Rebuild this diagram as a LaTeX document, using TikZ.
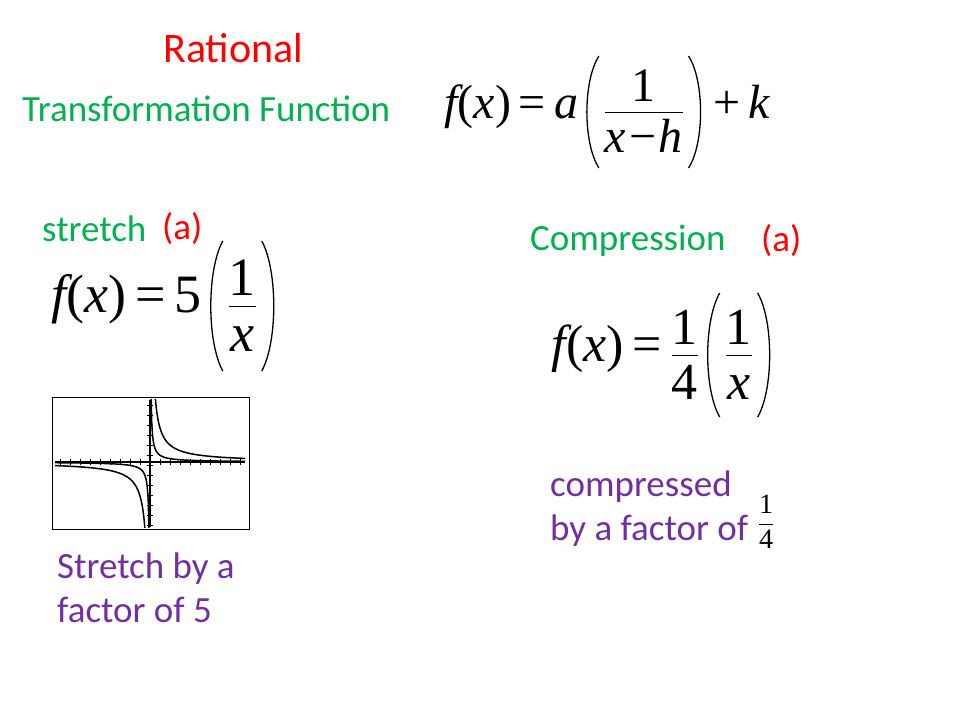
\documentclass[tikz,border=0pt]{standalone}
\usepackage{fontspec}
\setmainfont{Carlito}
\newfontfamily\serif{Liberation Serif}
\newcommand\mi[1]{\mbox{\serif\itshape #1}}
\newcommand\mr[1]{\mbox{\serif #1}}
\newcommand\nm[1]{\mbox{\serif #1\rule[-0.14em]{0pt}{0pt}}}
\newcommand\dn[1]{\mbox{\serif\rule{0pt}{0.82em}#1}}
\newcommand\bp[1]{\vcenter{\hbox{\tikz[x=1pt,y=1pt]\draw[line width=1.3pt] (14,#1) .. controls (-2,#1*0.55) and (-2,-#1*0.55) .. (14,-#1);}}}
\newcommand\bq[1]{\vcenter{\hbox{\tikz[x=1pt,y=1pt]\draw[line width=1.3pt] (0,#1) .. controls (16,#1*0.55) and (16,-#1*0.55) .. (0,-#1);}}}
\definecolor{gr}{RGB}{0,176,80}
\definecolor{pu}{RGB}{112,48,160}
\begin{document}
\begin{tikzpicture}[x=1pt,y=-1pt,
  txt/.style={inner sep=0pt,anchor=west,font=\fontsize{37}{44}\selectfont},
  eq/.style={inner sep=0pt,anchor=center}]
\useasboundingbox (0,0) rectangle (960,720);
\node[txt,text=red,font=\fontsize{42}{50}\selectfont] (t) at (163,48) {Rational};
\node[txt,text=gr] (tf) at (22,109) {Transformation Function};
\node[eq] (e1) at (607,112) {\fontsize{48}{60}\selectfont$\displaystyle \mi{f}\mr{(}\mi{x}\mr{)}\mr{\,=\,}\mi{a}\,\bp{56}\,\frac{\nm{1}}{\dn{\itshape x−h}}\,\bq{56}\mr{\,+\,}\mi{k}$};
\node[txt,text=gr] (s) at (42,229) {stretch};
\node[txt,text=red] (sa) at (162,229) {(a)};
\node[eq] (e2) at (165,306) {\fontsize{54}{64}\selectfont$\displaystyle \mi{f}\mr{(}\mi{x}\mr{)}\mr{\,=\,}\mr{5}\,\bp{65}\,\frac{\nm{1}}{\dn{\itshape x}}\,\bq{65}$};
\node[txt,text=gr] (c) at (530,241) {Compression};
\node[txt,text=red] (ca) at (761,241) {(a)};
\node[eq] (e3) at (663,355) {\fontsize{52}{64}\selectfont$\displaystyle \mi{f}\mr{(}\mi{x}\mr{)}\mr{\,=\,}\frac{\nm{1}}{\dn{4}}\,\bp{62}\,\frac{\nm{1}}{\dn{\itshape x}}\,\bq{62}$};
\draw[line width=0.8pt] (52,397) rectangle (249,529);
\begin{scope}
\clip (54,399) rectangle (247,527);
\draw[line width=2pt] (55,462) -- (245,462);
\draw[line width=2pt] (150,400) -- (150,527);
\foreach \i in {60,70,...,240} \draw[line width=1pt] (\i,459) -- (\i,465);
\foreach \j in {405,415,...,525} \draw[line width=1pt] (147,\j) -- (153,\j);
\draw[line width=1.5pt,domain=0.6:95,samples=120] plot ({150+\x},{462-340/\x});
\draw[line width=1.5pt,domain=-0.6:-95,samples=120] plot ({150+\x},{462-340/\x});
\draw[line width=1.5pt,domain=0.2:95,samples=120] plot ({150+\x},{462-68/\x});
\draw[line width=1.5pt,domain=-0.2:-95,samples=120] plot ({150+\x},{462-68/\x});
\end{scope}
\node[txt,text=pu,align=left,anchor=north west] (st) at (57,553) {Stretch by a\\factor of 5};
\node[txt,text=pu,align=left,anchor=north west] (cp) at (550,471) {compressed\\by a factor of};
\node[eq] (fr) at (766,522) {\fontsize{28}{30}\selectfont$\displaystyle\frac{\nm{1}}{\dn{4}}$};
\end{tikzpicture}
\end{document}
